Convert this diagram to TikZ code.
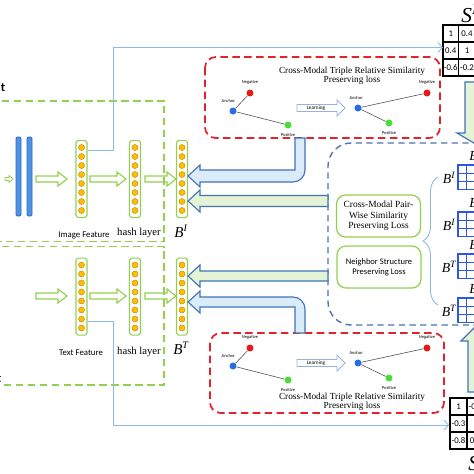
\documentclass[tikz,border=0pt]{standalone}
\usepackage{fontspec}
\setmainfont{Liberation Serif}
\setsansfont{Carlito}
\usetikzlibrary{positioning,arrows.meta,calc,decorations.pathreplacing}

\newcommand\pxl{0.028cm}

\definecolor{featgreen}{RGB}{146,208,80}
\definecolor{neuronfill}{RGB}{255,190,0}
\definecolor{neuronedge}{RGB}{205,140,20}
\definecolor{convblue}{RGB}{80,145,225}
\definecolor{convedge}{RGB}{45,105,190}
\definecolor{linkblue}{RGB}{140,185,230}
\definecolor{arrowblue}{RGB}{65,115,185}
\definecolor{paleblue}{RGB}{218,236,250}
\definecolor{palegreen}{RGB}{228,243,214}
\definecolor{lossred}{RGB}{225,35,45}
\definecolor{regionblue}{RGB}{75,115,175}
\definecolor{codeblue}{RGB}{45,85,230}
\definecolor{anchorblue}{RGB}{40,110,235}
\definecolor{negred}{RGB}{230,25,25}
\definecolor{posgreen}{RGB}{75,220,55}
\definecolor{learnedge}{RGB}{150,180,215}

\begin{document}
\begin{tikzpicture}[x=\pxl,y=-\pxl,
    gdash/.style={draw=featgreen,line width=1.2pt,dash pattern=on 6pt off 3.5pt},
    redbox/.style={draw=lossred,line width=1.4pt,dash pattern=on 6pt off 3.5pt,rounded corners=0.3cm},
    bdash/.style={draw=regionblue,line width=1.1pt,dash pattern=on 5pt off 3.5pt,rounded corners=0.65cm},
    col/.style={draw=featgreen,line width=0.8pt,fill=white,rounded corners=1.5pt,
                minimum width=11*\pxl,minimum height=77*\pxl,inner sep=0pt},
    neuron/.style={draw=neuronedge,fill=neuronfill,line width=0.4pt},
    garrow/.style={draw=featgreen,fill=white,line width=0.9pt,line join=miter},
    barrow/.style={draw=arrowblue,fill=paleblue,line width=0.9pt},
    larrow/.style={draw=arrowblue,fill=palegreen,line width=0.9pt},
    link/.style={draw=linkblue,line width=0.7pt,-{Straight Barb[length=3.5pt,width=8pt]}},
    lossbox/.style={draw=featgreen,line width=1pt,rounded corners=0.25cm,fill=white,align=center,inner sep=0pt},
    pt/.style={circle,inner sep=0pt,minimum size=7*\pxl},
    edge/.style={draw=black!65,line width=0.5pt},
    learn/.style={draw=learnedge,fill=white,line width=0.6pt},
    gridc/.style={draw=codeblue,line width=0.9pt},
    cellb/.style={draw=black,line width=1.1pt},
    feat/.style={font=\sffamily\fontsize{7}{8}\selectfont},
    hashlbl/.style={font=\fontsize{8.5}{10}\selectfont},
    blbl/.style={font=\fontsize{12}{14}\selectfont\itshape},
    glbl/.style={font=\fontsize{11}{13}\selectfont\itshape},
    slbl/.style={font=\fontsize{17}{19}\selectfont\itshape},
    tiny/.style={font=\sffamily\fontsize{3.6}{4}\selectfont},
    ttl/.style={font=\fontsize{7.4}{7.4}\selectfont,align=center},
    cell/.style={font=\sffamily\fontsize{7}{8}\selectfont},
    intitle/.style={font=\sffamily\bfseries\fontsize{10}{12}\selectfont,anchor=east,inner sep=0pt}]

  \useasboundingbox (0,0) rectangle (474,474);
  \clip (0,0) rectangle (474,474);

  % ---------------- cut-off input titles ----------------
  \node[intitle] (imgin) at (5.5,88) {t};
  \node[intitle] (txtin) at (1.5,379) {t};

  % ---------------- conv layers ----------------
  \foreach \x in {18.5,29.5}
    \draw[draw=convedge,fill=convblue,line width=0.6pt,rounded corners=1pt] (\x-2.5,137) rectangle (\x+2.5,216);
  \draw[garrow,line width=0.6pt] (5,177.5) -- (9,177.5) -- (9,175.5) -- (13,179) -- (9,182.5) -- (9,180.5) -- (5,180.5) -- cycle;

  % ---------------- feature / hash columns ----------------
  \foreach \nm/\x/\y in {imgf/81.5/179, imgh/135/179, imgb/182/179,
                         txtf/81.5/296.5, txth/135/296.5, txtb/182/296.5}{
    \node[col] (\nm) at (\x,\y) {};
    \foreach \k in {0,...,7}
      \draw[neuron] (\x,\y-31.5+9*\k) circle (3);
  }
  \foreach \xa/\xb/\y in {36/67/179, 90/126/179, 145/176/179,
                          36/67/296, 90/126/296, 145/176/296}
    \draw[garrow] (\xa,\y-3) -- (\xb-9,\y-3) -- (\xb-9,\y-7) -- (\xb,\y)
                  -- (\xb-9,\y+7) -- (\xb-9,\y+3) -- (\xa,\y+3) -- cycle;

  \node[feat] (imgl) at (84,235) {Image Feature};
  \node[hashlbl] (imghl) at (139,233) {hash layer};
  \node[blbl] (bI) at (181,231) {B\textsuperscript{I}};
  \node[feat] (txtl) at (81,353) {Text Feature};
  \node[hashlbl] (txthl) at (139,352) {hash layer};
  \node[blbl] (bT) at (181,348) {B\textsuperscript{T}};

  % dashed network boxes
  \draw[gdash] (-10,101) -- (164,101) -- (164,241.5) -- (-10,241.5);
  \draw[gdash] (-10,246.5) -- (164,246.5) -- (164,385) -- (-10,385);

  % ---------------- similarity matrices ----------------
  \node[slbl,anchor=west] (sIl) at (457,14) {S\textsuperscript{I}};
  \foreach \a/\b [count=\r from 0] in {1/0.4, 0.4/1, -0.6/-0.2}{
    \draw[cellb] (443,25+17*\r) rectangle +(15.5,17);
    \draw[cellb] (458.5,25+17*\r) rectangle +(17,17);
    \node[cell] at (450.75,33.5+17*\r) {\a};
    \node[cell] at (467,33.5+17*\r) {\b};
  }
  \coordinate (sIin) at (443,47.5);
  \node[slbl,anchor=west] (sTl) at (464,462) {S\textsuperscript{T}};
  \foreach \a/\b [count=\r from 0] in {1/-0.3, -0.3/1, -0.8/0.5}{
    \draw[cellb] (450,398+17*\r) rectangle +(17,17);
    \draw[cellb] (467,398+17*\r) rectangle +(17,17);
    \node[cell] at (458.5,406.5+17*\r) {\a};
    \node[cell] at (475.5,406.5+17*\r) {\b};
  }
  \coordinate (sTin) at (449,425);

  \draw[link] (imgf.east |- 0,150) -- (113,150) -- (113,47.5) -- (sIin);
  \draw[link] (txtf.east |- 0,321) -- (113,321) -- (113,425) -- (sTin);

  % ---------------- triple relative similarity losses ----------------
  \draw[redbox] (205,57) rectangle (440,138);
  \draw[redbox] (210,333) rectangle (444,413);
  \node[ttl] (tripu) at (352,75.5) {Cross-Modal Triple Relative Similarity\\Preserving loss};
  \node[ttl] (tripd) at (352,402) {Cross-Modal Triple Relative Similarity\\Preserving loss};
  \foreach \oy/\g in {0/u, 255/d}{
    \node[pt,fill=anchorblue,label={[tiny,xshift=-0.13cm,label distance=0.5pt]above:Anchor}] (ancl\g) at (233,111+\oy) {};
    \node[pt,fill=negred,label={[tiny,label distance=0.5pt]above:Negative}] (negl\g) at (250,93+\oy) {};
    \node[pt,fill=posgreen,label={[tiny,label distance=0.5pt]below:Positive}] (posl\g) at (288,125+\oy) {};
    \draw[edge] (ancl\g) -- (negl\g);
    \draw[edge] (ancl\g) -- (posl\g);
    \draw[learn] (297,104.5+\oy) -- (337,104.5+\oy) -- (337,100+\oy) -- (345,108+\oy)
                 -- (337,116+\oy) -- (337,111.5+\oy) -- (297,111.5+\oy) -- cycle;
    \node[tiny,font=\sffamily\fontsize{4.2}{5}\selectfont] (learn\g) at (316,108+\oy) {Learning};
    \node[pt,fill=anchorblue,label={[tiny,xshift=-0.05cm,label distance=0.5pt]above:Anchor}] (ancr\g) at (358,108+\oy) {};
    \node[pt,fill=negred,label={[tiny,label distance=0.5pt]above:Negative}] (negr\g) at (427,93+\oy) {};
    \node[pt,fill=posgreen,label={[tiny,label distance=0.5pt]below:Positive}] (posr\g) at (389,123+\oy) {};
    \draw[edge] (ancr\g) -- (negr\g);
    \draw[edge] (ancr\g) -- (posr\g);
  }

  % ---------------- hash code region ----------------
  \draw[bdash] (490,143) -- (328,143) -- (328,325) -- (490,325);
  \node[lossbox,minimum width=84*\pxl,minimum height=42*\pxl,font=\fontsize{7.5}{8.4}\selectfont]
    (pairloss) at (378.5,216) {Cross-Modal Pair-\\Wise Similarity\\Preserving Loss};
  \node[lossbox,minimum width=84*\pxl,minimum height=42*\pxl,font=\sffamily\fontsize{6.8}{8}\selectfont]
    (nbrloss) at (379,267) {Neighbor Structure\\Preserving Loss};
  \draw[draw=linkblue,line width=0.7pt,decorate,decoration={brace,amplitude=0.42cm}]
    (438,305) -- (438,177);
  \foreach \nm/\y/\ml/\mt in {gI1/165/I/T, gI2/212/I/I, gT1/254/T/T, gT2/298/T/I}{
    \foreach \r in {0,1,2}
      \foreach \c in {0,1,2}
        \draw[gridc] (458+8.3*\c,\y+8.3*\r) rectangle +(8.3,8.3);
    \node[glbl] (\nm) at (449,\y+12.5) {B\textsuperscript{\ml}};
    \node[glbl,anchor=west] at (465,\y-10) {B\textsuperscript{\mt}};
  }

  % ---------------- big arrows ----------------
  \draw[barrow] (295,138) -- (305,138) -- (305,170) .. controls (305,176.6) and (299.6,182) .. (293,182)
                -- (200,182) -- (200,187) -- (188,176) -- (200,165) -- (200,170) -- (295,170) -- cycle;
  \draw[larrow] (328,195.5) -- (200,195.5) -- (200,190) -- (188,201) -- (200,212) -- (200,206.5) -- (328,206.5) -- cycle;
  \draw[larrow] (328,271) -- (200,271) -- (200,265) -- (188,276) -- (200,287) -- (200,281) -- (328,281) -- cycle;
  \draw[barrow] (295,333) -- (305,333) -- (305,309) .. controls (305,302.4) and (299.6,297) .. (293,297)
                -- (200,297) -- (200,291) -- (188,302) -- (200,313) -- (200,307) -- (295,307) -- cycle;
  \draw[larrow] (465,82) -- (465,133) -- (457,133) -- (479,146) -- (501,133) -- (491,133) -- (491,82) -- cycle;
  \draw[larrow] (468,392) -- (468,341) -- (461,341) -- (481,321) -- (501,341) -- (492,341) -- (492,392) -- cycle;
\end{tikzpicture}
\end{document}
